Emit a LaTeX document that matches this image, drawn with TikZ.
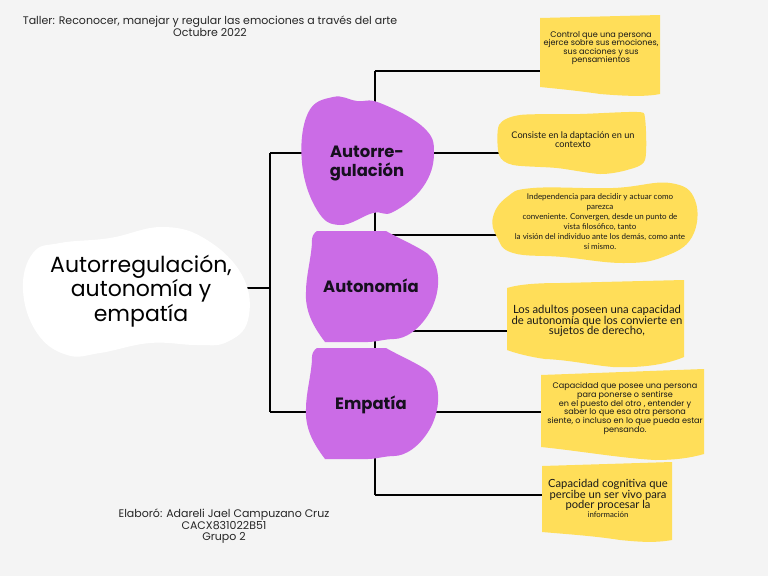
\documentclass[tikz,border=0pt]{standalone}
\usepackage{fontspec}
\setmainfont{Poppins}
\newfontfamily\notefont{Lato}
\usetikzlibrary{backgrounds}
\definecolor{pagegray}{HTML}{F4F4F4}
\definecolor{lilac}{HTML}{CB6CE6}
\definecolor{notegold}{HTML}{FFDE59}
\definecolor{inkdark}{HTML}{16101E}
\newcommand{\lilacblob}{(317,231) -- (386,231) .. controls (398,238) and (417,246) .. (428,254) .. controls (441,266) and (441,290) .. (431,310) .. controls (420,330) and (405,339) .. (394,339) .. controls (385,339) and (376,342) .. (368,342) -- (325,342) .. controls (312,325) and (305,310) .. (306,292) .. controls (306,275) and (312,255) .. (312,240) .. controls (312,236) and (314,233) .. (317,231) -- cycle}
\tikzset{
  link/.style={line width=1.7pt,color=black},
  thinlink/.style={line width=1.2pt,color=black},
  topic/.style={font=\fontsize{16.4}{19}\selectfont\bfseries,text=inkdark,align=center,inner sep=0pt},
  caption/.style={font=\fontsize{11}{10.6}\selectfont,text=black!85,align=center,inner sep=0pt},
  note/.style={text=black!90,align=center,inner sep=0pt}
}
\begin{document}
\begin{tikzpicture}[line cap=butt,line join=round,x=1pt,y=-1pt]
  \useasboundingbox (0,0) rectangle (768,576);
  \fill [white] plot [smooth cycle,tension=0.7] coordinates {(23,290) (33,253) (60,243) (110,238) (163,227) (207,240) (243,277) (248,320) (227,342) (197,345) (150,343) (100,353) (67,355) (37,333)};
  \fill [lilac] plot [smooth cycle,tension=0.7] coordinates {(333,97) (357,101) (380,103) (423,127) (434,153) (423,187) (393,212) (373,213) (340,225) (317,210) (302,163) (308,113)};
  \fill [lilac] \lilacblob;
  \fill [lilac,yshift=-117pt] \lilacblob;
  \fill [notegold] (540,18) -- (660,15) -- (660,94) .. controls (645,97) and (625,96) .. (600,94) .. controls (580,91) and (560,89) .. (540,87) -- cycle;
  \fill [notegold] plot [smooth cycle,tension=0.45] coordinates {(499,125) (520,115) (580,114) (637,112) (645,118) (645,160) (627,170) (600,174) (557,168) (513,165) (499,155)};
  \fill [notegold] plot [smooth cycle,tension=0.7] coordinates {(493,217) (507,197) (533,188) (613,188) (670,183) (695,200) (692,237) (663,257) (623,263) (563,257) (513,253) (497,237)};
  \fill [notegold] (507,288) .. controls (520,284) and (540,283) .. (560,283) -- (684,280) -- (684,357) .. controls (665,365) and (640,368) .. (613,367) .. controls (590,365) and (570,360) .. (545,359) .. controls (530,357) and (515,353) .. (507,350) -- cycle;
  \fill [notegold] (541,375) -- (704,369) -- (704,454) .. controls (690,458) and (675,460) .. (655,460) .. controls (620,458) and (580,451) .. (541,447) -- cycle;
  \fill [notegold] (542,466) -- (672,462) -- (672,540) .. controls (655,543) and (640,542) .. (620,540) .. controls (595,536) and (565,534) .. (542,532) -- cycle;
  \node [font=\fontsize{22}{24.5}\selectfont,text=black,align=center,inner sep=0pt] (root) at (141,291) {Autorregulación,\\autonomía y\\empatía};
  \node [topic] (selfreg) at (367,163) {Autorre-\\gulación};
  \node [topic] (autonomy) at (371,286) {Autonomía};
  \node [topic] (empathy) at (371,404.5) {Empatía};
  \node [note,font=\fontsize{8.1}{8.4}\selectfont] (noteControl) at (601,48) {Control que una persona\\ejerce sobre sus emociones,\\sus acciones y sus\\pensamientos};
  \node [note,font=\notefont\fontsize{9.2}{9.2}\selectfont] (noteContext) at (573,140) {Consiste en la daptación en un\\contexto};
  \node [note,font=\notefont\fontsize{8}{10}\selectfont] (noteFree) at (600,222) {Independencia para decidir y actuar como\\parezca\\conveniente. Convergen, desde un punto de\\vista filosófico, tanto\\la visión del individuo ante los demás, como ante\\sí mismo.};
  \node [note,font=\notefont\fontsize{11.3}{10.4}\selectfont] (noteAdults) at (597,321) {Los adultos poseen una capacidad\\de autonomía que los convierte en\\sujetos de derecho,};
  \node [note,font=\fontsize{8.1}{8.8}\selectfont] (noteSense) at (625,408.5) {Capacidad que posee una persona\\para ponerse o sentirse\\en el puesto del otro , entender y\\saber lo que esa otra persona\\siente, o incluso en lo que pueda estar\\pensando.};
  \node [note,font=\notefont\fontsize{11.2}{10.6}\selectfont] (noteCognit) at (608,498.5) {Capacidad cognitiva que\\percibe un ser vivo para\\poder procesar la\\[-1.5pt]{\fontsize{7.8}{7}\selectfont información}};
  \node [caption] (workshop) at (210,26) {Taller: Reconocer, manejar y regular las emociones a través del arte\\Octubre 2022};
  \node [caption] (author) at (224,526) {Elaboró: Adareli Jael Campuzano Cruz\\CACX831022B51\\Grupo 2};
  \coordinate (busTop) at (270,153);
  \coordinate (busBottom) at (270,412);
  \coordinate (trunkTop) at (375,71);
  \coordinate (trunkBottom) at (375,495);
  \coordinate (freeJoin) at (375,235);
  \coordinate (adultsJoin) at (375,331);
  \coordinate (rootJoin) at (270,288);
  \begin{pgfonlayer}{background}
    \fill [pagegray] (0,0) rectangle (768,576);
    \draw [thinlink] (rootJoin) -- (rootJoin -| root);
    \draw [link] (busTop) -- (busBottom);
    \draw [link] (busTop) -- (busTop -| noteContext);
    \draw [link] (busBottom) -- (busBottom -| noteSense);
    \draw [link] (trunkTop) -- (trunkBottom);
    \draw [link] (trunkTop) -- (trunkTop -| noteControl);
    \draw [thinlink] (freeJoin) -- (freeJoin -| noteFree);
    \draw [link] (adultsJoin) -- (adultsJoin -| noteAdults);
    \draw [link] (trunkBottom) -- (trunkBottom -| noteCognit);
  \end{pgfonlayer}
\end{tikzpicture}
\end{document}
